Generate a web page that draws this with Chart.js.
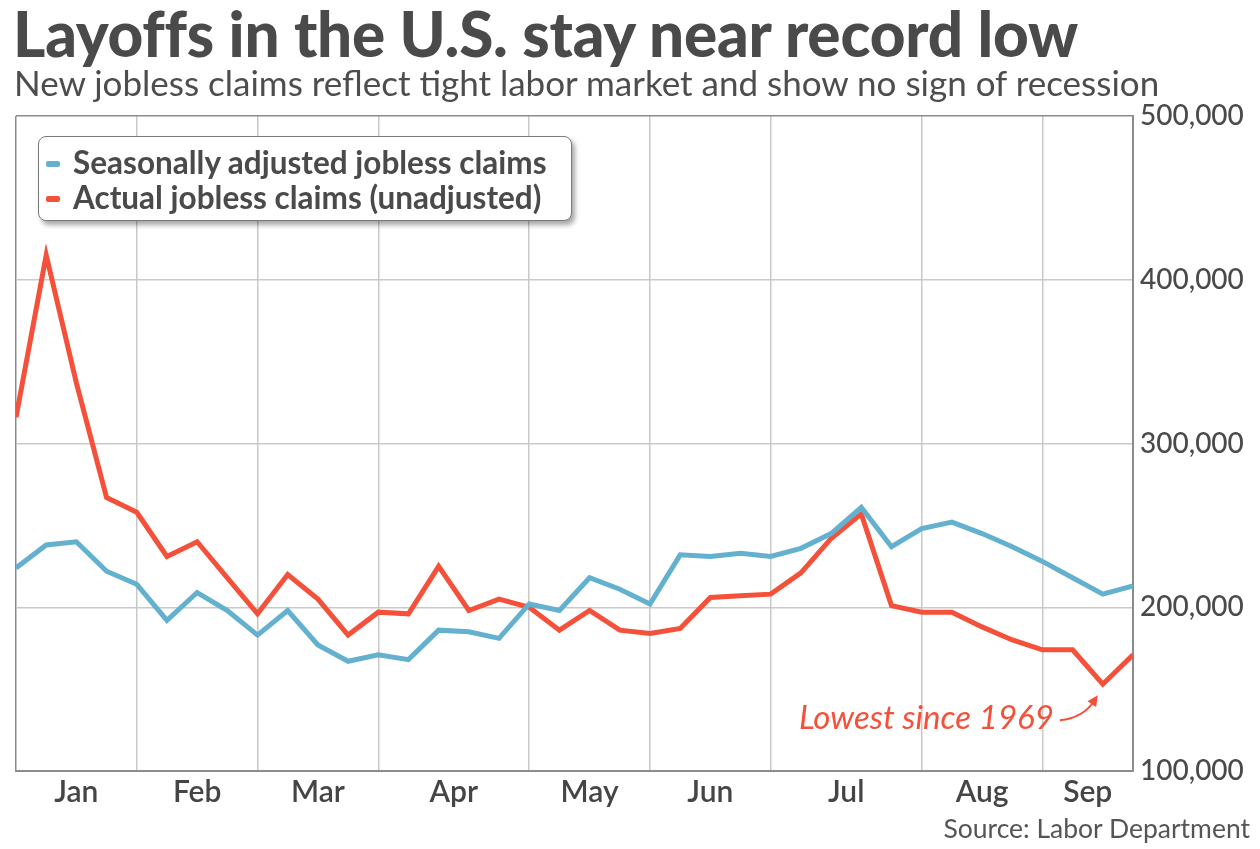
<!DOCTYPE html>
<html>
<head>
<meta charset="utf-8">
<script src="https://cdn.jsdelivr.net/npm/chart.js@4.4.1/dist/chart.umd.min.js"></script>
<style>
  html, body { margin: 0; padding: 0; background: #fff; }
  body { width: 1260px; height: 849px; position: relative; overflow: hidden; font-family: Lato, "Open Sans", sans-serif; }
  #wrap { position: absolute; left: 0; top: 0; width: 1260px; height: 849px; }
  .title { position: absolute; left: 13px; top: -4px; font-size: 62px; font-weight: 900; color: #4a4a4a; white-space: nowrap; letter-spacing: -0.2px; }
  .subtitle { position: absolute; left: 14px; top: 61px; font-size: 35px; color: #4d4d4d; white-space: nowrap; }
  .source { position: absolute; right: 10px; top: 812px; font-size: 26.5px; color: #555; white-space: nowrap; }
  .legend { position: absolute; left: 38px; top: 136px; width: 532px; height: 83px; background: #fff; border: 1.5px solid #7a7a7a; border-radius: 8px; box-shadow: 3px 4px 5px rgba(0,0,0,0.35); }
  .legend div { position: absolute; left: 7px; font-size: 31.5px; font-weight: bold; color: #4a4a4a; white-space: nowrap; line-height: 36px; }
  .legend span { display: inline-block; width: 14px; height: 6px; border-radius: 2px; margin-right: 13px; vertical-align: middle; position: relative; top: -2px; }
</style>
</head>
<body>
<div id="wrap"><canvas id="chart" width="1260" height="849"></canvas></div>
<div class="title">Layoffs in the U.S. stay near record low</div>
<div class="subtitle">New jobless claims reflect tight labor market and show no sign of recession</div>
<div class="legend" id="legend"></div>
<div class="source">Source: Labor Department</div>
<script>
// weekly claims, Jan to Sep
const adjusted = [224000, 238000, 240000, 222000, 214000, 192000, 209000, 198000, 183000, 198000,
  177000, 167000, 171000, 168000, 186000, 185000, 181000, 202000, 198000, 218000,
  211000, 202000, 232000, 231000, 233000, 231000, 236000, 245000, 261000, 237000,
  248000, 252000, 245000, 237000, 228000, 218000, 208000, 213000];
const actual = [316000, 415000, 337000, 267000, 258000, 231000, 240000, 218000, 196000, 220000,
  205000, 183000, 197000, 196000, 225000, 198000, 205000, 200000, 186000, 198000,
  186000, 184000, 187000, 206000, 207000, 208000, 221000, 242000, 257000, 201000,
  197000, 197000, 188000, 180000, 174000, 174000, 153000, 171000];
const months = ["Jan", "Feb", "Mar", "Apr", "May", "Jun", "Jul", "Aug", "Sep"];
// week index where each month starts (plus the last week)
const monthEdges = [0, 4, 8, 12, 17, 21, 25, 30, 34, 37];
const yTicks = [100000, 200000, 300000, 400000, 500000];
const seriesNames = ["Seasonally adjusted jobless claims", "Actual jobless claims (unadjusted)"];
const lowWeek = 36;
const noteText = "Lowest since 1969";

const BLUE = "#63b0cf";
const RED = "#f5503a";
const DARK_LINE = "#8c8c8c";
const LIGHT_LINE = "#c9c9c9";

const monthMids = months.map((m, i) => (monthEdges[i] + monthEdges[i + 1]) / 2);

// legend as html
const legendEl = document.getElementById("legend");
[BLUE, RED].forEach((c, i) => {
  const row = document.createElement("div");
  row.style.top = (i === 0 ? 7 : 42) + "px";
  row.innerHTML = '<span style="background:' + c + '"></span>' + seriesNames[i];
  legendEl.appendChild(row);
});

const notePlugin = {
  id: "note",
  afterDatasetsDraw(chart) {
    const pt = chart.getDatasetMeta(1).data[lowWeek];
    const ctx = chart.ctx;
    ctx.save();
    ctx.fillStyle = RED;
    ctx.strokeStyle = RED;
    ctx.font = "italic 33px Lato";
    ctx.textAlign = "right";
    ctx.textBaseline = "alphabetic";
    ctx.fillText(noteText, pt.x - 49, pt.y + 45);
    // curved arrow
    const sx = pt.x - 43, sy = pt.y + 36;
    const ex = pt.x - 8, ey = pt.y + 16;
    const cx = pt.x - 20, cy = pt.y + 34;
    ctx.lineWidth = 2;
    ctx.beginPath();
    ctx.moveTo(sx, sy);
    ctx.quadraticCurveTo(cx, cy, ex, ey);
    ctx.stroke();
    const ang = Math.atan2(ey - cy, ex - cx);
    const tx = pt.x - 5, ty = pt.y + 11;
    ctx.beginPath();
    ctx.moveTo(tx, ty);
    ctx.lineTo(tx - 12 * Math.cos(ang - 0.45), ty - 12 * Math.sin(ang - 0.45));
    ctx.lineTo(tx - 12 * Math.cos(ang + 0.45), ty - 12 * Math.sin(ang + 0.45));
    ctx.closePath();
    ctx.fill();
    ctx.restore();
  }
};

new Chart(document.getElementById("chart").getContext("2d"), {
  type: "line",
  data: {
    datasets: [
      {
        label: seriesNames[0],
        data: adjusted.map((v, i) => ({ x: i, y: v })),
        borderColor: BLUE,
        borderWidth: 5,
        pointRadius: 0,
        tension: 0,
      },
      {
        label: seriesNames[1],
        data: actual.map((v, i) => ({ x: i, y: v })),
        borderColor: RED,
        borderWidth: 5,
        pointRadius: 0,
        tension: 0,
      },
    ],
  },
  options: {
    responsive: false,
    animation: false,
    layout: { padding: { left: 16, top: 116, right: 0, bottom: 0 } },
    plugins: { legend: { display: false }, tooltip: { enabled: false } },
    scales: {
      x: {
        type: "linear",
        min: 0,
        max: 37,
        position: "bottom",
        afterBuildTicks: (axis) => { axis.ticks = monthEdges.map((v) => ({ value: v })); },
        afterFit: (axis) => { axis.height = 0; },
        ticks: { display: false },
        grid: {
          drawTicks: false,
          lineWidth: 1.5,
          color: (c) => (c.tick && (c.tick.value === 0 || c.tick.value === 37) ? DARK_LINE : LIGHT_LINE),
        },
        border: { display: true, color: DARK_LINE, width: 2 },
      },
      xl: {
        type: "linear",
        min: 0,
        max: 37,
        position: "bottom",
        afterBuildTicks: (axis) => { axis.ticks = monthMids.map((v) => ({ value: v })); },
        afterFit: (axis) => { axis.height = 78; },
        ticks: {
          autoSkip: false,
          maxRotation: 0,
          padding: -5,
          color: "#454545",
          font: { family: "Lato", size: 30, weight: "600" },
          callback: (v, i) => months[i],
        },
        grid: { display: false },
        border: { display: false },
      },
      y: {
        position: "right",
        min: 100000,
        max: 500000,
        afterBuildTicks: (axis) => { axis.ticks = yTicks.map((v) => ({ value: v })); },
        afterFit: (axis) => { axis.width = 127; },
        ticks: {
          padding: 7,
          color: "#4a4a4a",
          font: { family: "Lato", size: 28, weight: "500" },
          callback: (v) => v.toLocaleString("en-US"),
        },
        grid: {
          drawTicks: false,
          lineWidth: 1.5,
          color: (c) => (c.tick && (c.tick.value === 100000 || c.tick.value === 500000) ? DARK_LINE : LIGHT_LINE),
        },
        border: { display: true, color: DARK_LINE, width: 2 },
      },
    },
  },
  plugins: [notePlugin],
});
</script>
</body>
</html>
